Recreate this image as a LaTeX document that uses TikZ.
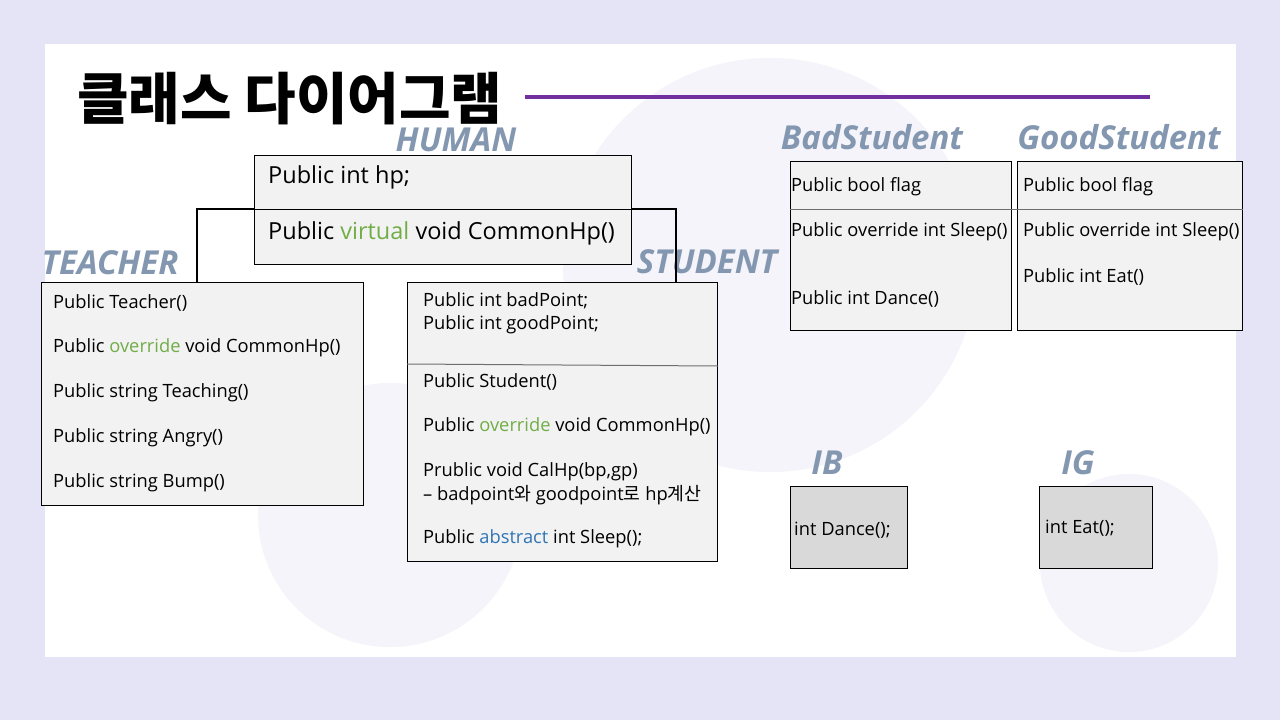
\documentclass[tikz,border=0pt]{standalone}
\usepackage{fontspec}
\setmainfont{Open Sans}
\newfontfamily\kr{Noto Sans CJK KR}
\definecolor{pagebg}{HTML}{E4E4F6}
\definecolor{circ}{HTML}{F4F4FA}
\definecolor{boxgray}{HTML}{F2F2F2}
\definecolor{ifgray}{HTML}{D9D9D9}
\definecolor{lblue}{HTML}{8497B0}
\definecolor{kwgreen}{HTML}{70AD47}
\definecolor{kwblue}{HTML}{2E75B6}
\definecolor{ttlpurple}{HTML}{7030A0}
\definecolor{divgray}{HTML}{6E6E6E}
\begin{document}
\begin{tikzpicture}[x=1pt,y=-1pt]
\tikzset{
  classbox/.style={draw=black, line width=1pt, fill=boxgray, inner sep=0pt, anchor=north west},
  ifbox/.style={classbox, fill=ifgray},
  member/.style={anchor=west, inner sep=0pt, font=\fontsize{18.3}{22}\selectfont},
  bigmember/.style={anchor=west, inner sep=0pt, font=\fontsize{23.5}{28}\selectfont},
  classlabel/.style={inner sep=0pt, text=lblue, font=\fontsize{33}{38}\selectfont\bfseries\itshape},
  divider/.style={draw=divgray, line width=1pt},
  conn/.style={draw=black, line width=1.5pt},
}
\useasboundingbox (0,0) rectangle (1280,720);
\fill[pagebg] (0,0) rectangle (1280,720);
\fill[white] (45,44) rectangle (1236,657);
% decorative circles
\begin{scope}
\clip (45,44) rectangle (1236,657);
\fill[circ] (770,265) circle (207);
\fill[circ] (390,515) circle (132);
\fill[circ] (1129,563) circle (89);
\end{scope}

% title
\node[anchor=west, inner sep=0pt, font=\kr\bfseries\fontsize{56}{62}\selectfont] (title) at (77,99) {클래스 다이어그램};
\draw[ttlpurple, line width=4pt] (525,97) -- (1150,97);

% HUMAN
\node[classlabel] (humanlbl) at (456,140) {HUMAN};
\node[classbox, minimum width=377pt, minimum height=109pt] (human) at (254,155) {};
\draw[divider, draw=black] ([yshift=-54pt]human.north west) -- ([yshift=-54pt]human.north east);
\node[bigmember] (h1) at (268,177) {Public int hp;};
\node[bigmember] (h2) at (268,233) {Public \textcolor{kwgreen}{virtual} void CommonHp()};

% TEACHER
\node[classlabel] (teacherlbl) at (110,263) {TEACHER};
\node[classbox, minimum width=322pt, minimum height=223pt] (teacher) at (41,282) {};
\node[member] (t1) at (53,303) {Public Teacher()};
\node[member] (t2) at (53,348) {Public \textcolor{kwgreen}{override} void CommonHp()};
\node[member] (t3) at (53,393) {Public string Teaching()};
\node[member] (t4) at (53,438) {Public string Angry()};
\node[member] (t5) at (53,483) {Public string Bump()};

% STUDENT
\node[classlabel] (studentlbl) at (707,262) {STUDENT};
\node[classbox, minimum width=310pt, minimum height=279pt] (student) at (407,282) {};
\draw[divider] ([yshift=-82pt]student.north west) -- ([yshift=-84pt]student.north east);
\node[member] (s1) at (423,301) {Public int badPoint;};
\node[member] (s2) at (423,325) {Public int goodPoint;};
\node[member] (s3) at (423,382) {Public Student()};
\node[member] (s4) at (423,427) {Public \textcolor{kwgreen}{override} void CommonHp()};
\node[member] (s5) at (423,472) {Prublic void CalHp(bp,gp)};
\node[member] (s6) at (423,495) {– badpoint{\kr 와} goodpoint{\kr 로} hp{\kr 계산}};
\node[member] (s7) at (423,539) {Public \textcolor{kwblue}{abstract} int Sleep();};

% connectors
\draw[conn] ([xshift=156pt]teacher.north west) |- ([yshift=-54pt]human.north west);
\draw[conn] ([yshift=-54pt]human.north east) -| ([xshift=-42pt]student.north east);

% BadStudent / GoodStudent
\node[classlabel] (badlbl) at (872,137) {BadStudent};
\node[classlabel] (goodlbl) at (1119,137) {GoodStudent};
\node[classbox, minimum width=221pt, minimum height=169pt] (bad) at (790,161) {};
\node[classbox, minimum width=225pt, minimum height=169pt] (good) at (1017,161) {};
\draw[divider] ([yshift=-48pt]bad.north west) -- ([yshift=-48pt]good.north east);
\node[member] (b1) at (791,187) {Public bool flag};
\node[member] (b2) at (791,232) {Public override int Sleep()};
\node[member] (b3) at (791,299) {Public int Dance()};
\node[member] (g1) at (1023,187) {Public bool flag};
\node[member] (g2) at (1023,232) {Public override int Sleep()};
\node[member] (g3) at (1023,277) {Public int Eat()};

% IB / IG
\node[classlabel] (iblbl) at (827,463) {IB};
\node[classlabel] (iglbl) at (1078,463) {IG};
\node[ifbox, minimum width=117pt, minimum height=82pt] (ib) at (790,486) {};
\node[ifbox, minimum width=113pt, minimum height=82pt] (ig) at (1039,486) {};
\node[member] (ib1) at (794,530) {int Dance();};
\node[member] (ig1) at (1045,528) {int Eat();};
\end{tikzpicture}
\end{document}
